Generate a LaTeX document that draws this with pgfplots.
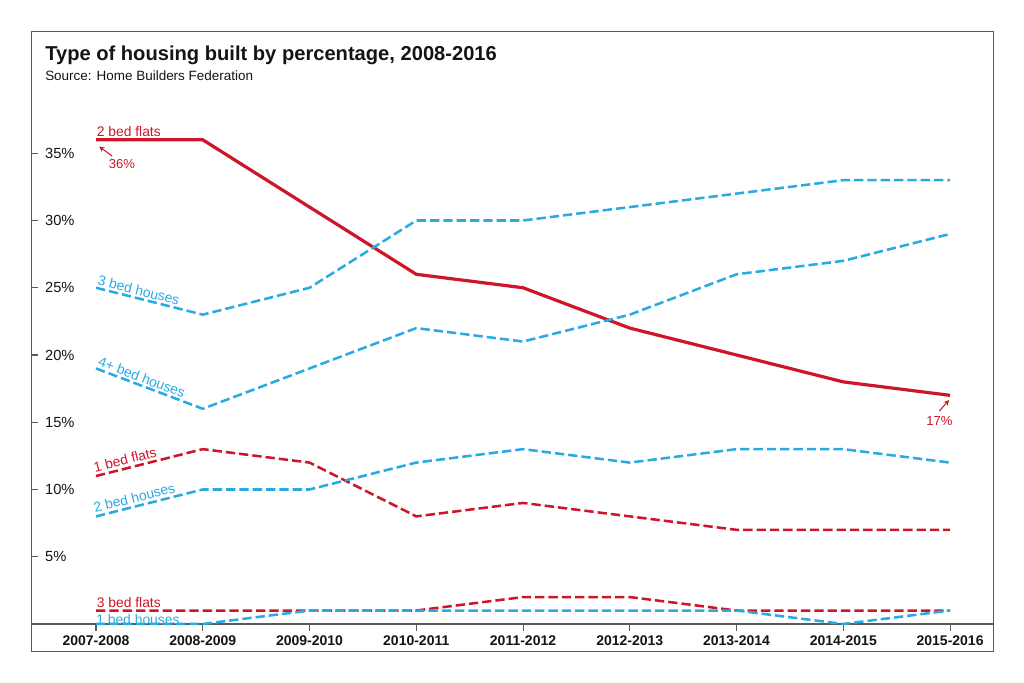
\documentclass[border=0pt]{standalone}
\usepackage{pgfplots}
\pgfplotsset{compat=1.18}
\usetikzlibrary{arrows.meta}
\usepackage{fontspec}
\setmainfont{Liberation Sans}
\definecolor{hbred}{RGB}{206,22,40}
\definecolor{hbblue}{RGB}{41,170,226}
\definecolor{framegray}{RGB}{90,90,90}
\definecolor{txt}{RGB}{20,20,20}

\begin{document}
\begin{tikzpicture}
\begin{axis}[
    scale only axis,
    width=721.2pt, height=465pt,
    xmin=-0.602, xmax=8.405,
    ymin=-2.06, ymax=44.04,
    axis x line=middle, axis y line=left,
    axis line style={-, framegray, line width=0.9pt},
    xtick={0,...,8},
    xticklabels={2007-2008,2008-2009,2009-2010,2010-2011,2011-2012,2012-2013,2013-2014,2014-2015,2015-2016},
    ytick={5,10,...,35},
    yticklabels={5\%,10\%,15\%,20\%,25\%,30\%,35\%},
    xtick align=outside, ytick align=inside,
    major tick length=5pt,
    tick style={framegray, line width=0.8pt},
    x tick label style={font=\fontsize{10.5}{12}\selectfont\bfseries, text=txt, yshift=0pt},
    y tick label style={font=\fontsize{11}{13}\selectfont, text=txt, anchor=west, xshift=6.5pt},
    clip=false,
    every axis plot/.append style={line join=round},
]
% frame and page
\path (rel axis cs:-0.033,-0.0505) rectangle (rel axis cs:1.0319,1.0511);
\draw[framegray, line width=0.9pt] (rel axis cs:0,0) rectangle (rel axis cs:1,1);

\node[anchor=base west, text=txt, font=\fontsize{15.1}{18}\selectfont\bfseries, inner sep=0pt]
  at (rel axis cs:0.0138,0.953) {Type of housing built by percentage, 2008-2016};
\node[anchor=base west, text=txt, font=\fontsize{10.1}{12}\selectfont, inner sep=0pt]
  at (rel axis cs:0.0138,0.922) {Source: Home Builders Federation};

% 2 bed flats
\addplot[hbred, line width=2.4pt] coordinates {
  (0,36) (1,36) (2,31) (3,26) (4,25) (5,22) (6,20) (7,18) (8,17)};
% 1 bed flats
\addplot[hbred, line width=1.9pt, dash pattern=on 7pt off 3pt] coordinates {
  (0,11) (1,13) (2,12) (3,8) (4,9) (5,8) (6,7) (7,7) (8,7)};
% 3 bed flats
\addplot[hbred, line width=1.9pt, dash pattern=on 7pt off 3pt] coordinates {
  (0,1) (1,1) (2,1) (3,1) (4,2) (5,2) (6,1) (7,1) (8,1)};
% 3 bed houses
\addplot[hbblue, line width=1.9pt, dash pattern=on 7pt off 3pt] coordinates {
  (0,25) (1,23) (2,25) (3,30) (4,30) (5,31) (6,32) (7,33) (8,33)};
% 4+ bed houses
\addplot[hbblue, line width=1.9pt, dash pattern=on 7pt off 3pt] coordinates {
  (0,19) (1,16) (2,19) (3,22) (4,21) (5,23) (6,26) (7,27) (8,29)};
% 2 bed houses
\addplot[hbblue, line width=1.9pt, dash pattern=on 7pt off 3pt] coordinates {
  (0,8) (1,10) (2,10) (3,12) (4,13) (5,12) (6,13) (7,13) (8,12)};
% 1 bed houses
\addplot[hbblue, line width=1.9pt, dash pattern=on 7pt off 3pt] coordinates {
  (0,0) (1,0) (2,1) (3,1) (4,1) (5,1) (6,1) (7,0) (8,1)};

% series labels
\tikzset{serlab/.style={anchor=south west, inner sep=1.2pt, font=\fontsize{10.4}{12}\selectfont}}
\node[serlab, text=hbred] at (axis cs:-0.01,36.1) {2 bed flats};
\node[serlab, text=hbred, rotate=14.1] at (axis cs:-0.02,11.1) {1 bed flats};
\node[serlab, text=hbred] at (axis cs:-0.01,1.1) {3 bed flats};
\node[serlab, text=hbblue, rotate=-14.1] at (axis cs:-0.01,25.1) {3 bed houses};
\node[serlab, text=hbblue, rotate=-20.7] at (axis cs:-0.01,19.1) {4+ bed houses};
\node[serlab, text=hbblue, rotate=14.1] at (axis cs:-0.02,8.1) {2 bed houses};
\node[serlab, text=hbblue, inner sep=0pt] at (axis cs:0.0,-0.1) {1 bed houses};

% value call-outs
\draw[hbred, line width=0.8pt, -{Stealth[length=4pt,width=4pt]}] (axis cs:0.150,34.8) -- (axis cs:0.03,35.5);
\node[text=hbred, font=\fontsize{9.8}{11}\selectfont] at (axis cs:0.243,34.2) {36\%};
\draw[hbred, line width=0.8pt, -{Stealth[length=4pt,width=4pt]}] (axis cs:7.90,15.84) -- (axis cs:7.99,16.65);
\node[text=hbred, font=\fontsize{9.8}{11}\selectfont] at (axis cs:7.90,15.12) {17\%};
\end{axis}
\end{tikzpicture}
\end{document}
